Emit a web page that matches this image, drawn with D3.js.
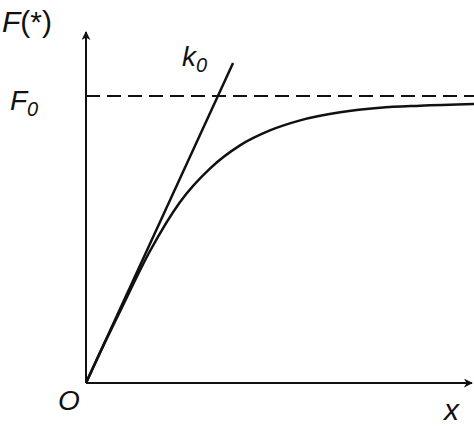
<!DOCTYPE html>
<html><head><meta charset="utf-8">
<script src="https://cdn.jsdelivr.net/npm/d3@7"></script>
<style>body{margin:0;background:#fff}text{font-family:"Liberation Sans",Arial,sans-serif;font-style:italic;fill:#111}</style>
</head><body>
<svg id="c" width="474" height="426"></svg>
<script>
// curve
const curveX = [0, 0.5, 0.88, 1.65, 2.42, 3.2, 3.97, 4.74, 5.52, 6.55, 7.58, 8.61, 10];
const curveY = [0, 0.145, 0.25, 0.46, 0.63, 0.748, 0.828, 0.88, 0.915, 0.943, 0.959, 0.966, 0.972];
const tangentX = [0, 3.79];
const tangentY = [0, 1.115];
const limitY = 1;

const svg = d3.select('#c');
const x = d3.scaleLinear().domain([0, 10]).range([86, 474]);
const y = d3.scaleLinear().domain([0, 1]).range([383, 96]);

const defs = svg.append('defs');
defs.append('marker').attr('id','arr').attr('viewBox','0 0 10 10').attr('refX',9).attr('refY',5)
  .attr('markerWidth',9).attr('markerHeight',9).attr('markerUnits','userSpaceOnUse').attr('orient','auto')
  .append('path').attr('d','M0,0L10,5L0,10L3,5Z').attr('fill','#111');

svg.append('line').attr('x1',86).attr('y1',383).attr('x2',86).attr('y2',32)
  .attr('stroke','#111').attr('stroke-width',2).attr('marker-end','url(#arr)');
svg.append('line').attr('x1',86).attr('y1',383).attr('x2',472).attr('y2',383)
  .attr('stroke','#111').attr('stroke-width',2).attr('marker-end','url(#arr)');

svg.append('line').attr('x1',x(0)).attr('x2',x(10)).attr('y1',y(limitY)).attr('y2',y(limitY))
  .attr('stroke','#111').attr('stroke-width',2).attr('stroke-dasharray','14,7');

const line = d3.line().x(d => x(d[0])).y(d => y(d[1]));
svg.append('path').datum(tangentX.map((v,i)=>[v,tangentY[i]])).attr('d',line)
  .attr('stroke','#111').attr('stroke-width',2.5).attr('fill','none');
svg.append('path').datum(curveX.map((v,i)=>[v,curveY[i]])).attr('d',line.curve(d3.curveMonotoneX))
  .attr('stroke','#111').attr('stroke-width',2.5).attr('fill','none');

svg.append('text').attr('x',2).attr('y',32).attr('font-size',30).text('F').append('tspan').style('font-style','normal').text('(*)');
const f0 = svg.append('text').attr('x',10).attr('y',110).attr('font-size',28).text('F');
f0.append('tspan').attr('font-size',20).attr('dy',6).text('0');
const k0 = svg.append('text').attr('x',182).attr('y',66).attr('font-size',28).text('k');
k0.append('tspan').attr('font-size',20).attr('dy',6).text('0');
svg.append('text').attr('x',58).attr('y',410).attr('font-size',28).text('O');
svg.append('text').attr('x',444).attr('y',420).attr('font-size',30).text('x');
</script>
</body></html>
